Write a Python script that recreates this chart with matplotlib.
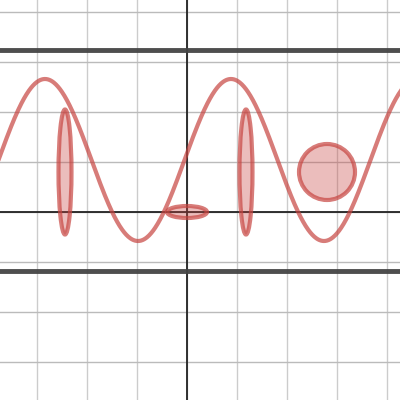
import numpy as np
import matplotlib
matplotlib.use('Agg')
import matplotlib.pyplot as plt
from matplotlib.patches import Ellipse

# sine curve parameters (grid units)
wave_mid = 1.04
wave_amp = 1.62
wave_period = 3.72
wave_peak_x = -2.84

# thick horizontal lines
hlines_y = [3.24, -1.18]

# ellipses: centre x, centre y, width, height
ell_x = [-2.44, 1.18, 0.0, 2.8]
ell_y = [0.8, 0.8, 0.0, 0.8]
ell_w = [0.26, 0.26, 0.8, 1.12]
ell_h = [2.5, 2.5, 0.24, 1.12]

red = '#c74440'

fig = plt.figure(figsize=(4, 4), dpi=100)
ax = fig.add_axes([0, 0, 1, 1])
ax.set_xlim(-3.74, 4.26)
ax.set_ylim(-3.76, 4.24)

for gx in np.arange(-3, 5):
    ax.axvline(gx, color='#cccccc', lw=1, zorder=0)
for gy in np.arange(-3, 5):
    ax.axhline(gy, color='#bbbbbb', lw=1, zorder=0)
ax.axvline(0, color='#222222', lw=1.3, zorder=1)
ax.axhline(0, color='#222222', lw=1.3, zorder=1)

for y in hlines_y:
    ax.axhline(y, color='#444444', lw=3.5, alpha=0.95, zorder=2)

x = np.linspace(-3.8, 4.3, 800)
y = wave_mid + wave_amp * np.cos(2 * np.pi * (x - wave_peak_x) / wave_period)
ax.plot(x, y, color=red, lw=3, alpha=0.7, zorder=3)

for cx, cy, w, h in zip(ell_x, ell_y, ell_w, ell_h):
    ax.add_patch(Ellipse((cx, cy), w, h, facecolor=red, alpha=0.35, edgecolor='none', zorder=3))
    ax.add_patch(Ellipse((cx, cy), w, h, facecolor='none', edgecolor=red, alpha=0.7, lw=3, zorder=4))

ax.axis('off')
fig.savefig('out.png', dpi=100)
